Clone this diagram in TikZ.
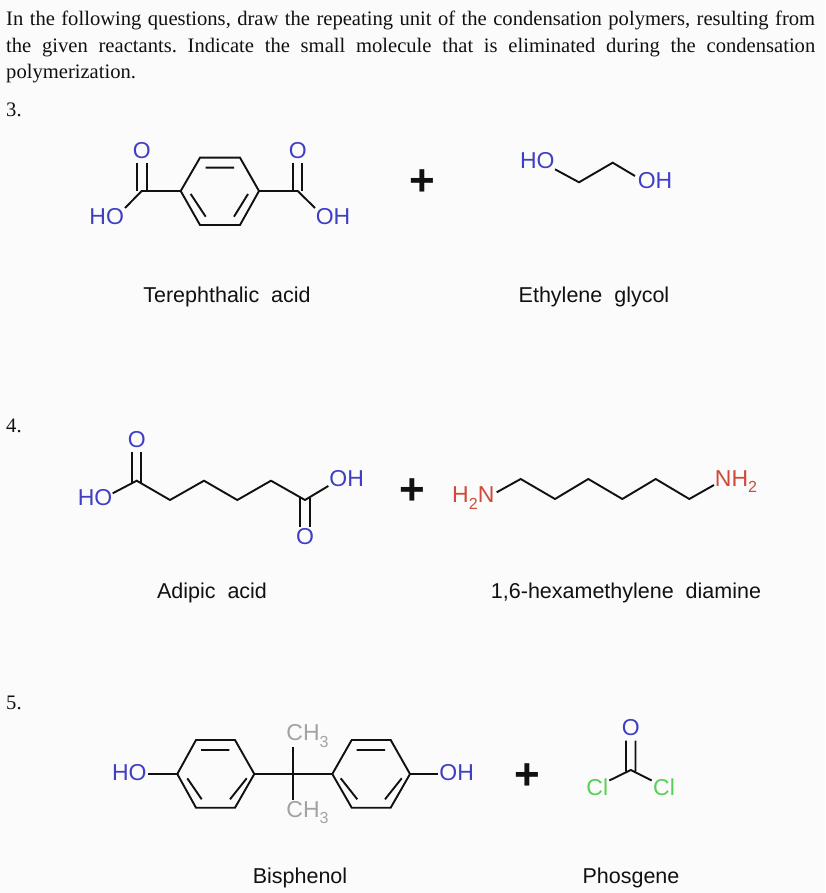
\documentclass[tikz,border=0pt]{standalone}
\usepackage{fontspec}
\setmainfont{Liberation Serif}
\newfontfamily\lab{Liberation Sans}
\frenchspacing
\definecolor{bgc}{HTML}{FBFBFB}
\definecolor{oxy}{HTML}{3F3FC4}
\definecolor{nit}{HTML}{CF4A38}
\definecolor{chl}{HTML}{58D058}
\definecolor{car}{HTML}{A2A2A2}
\definecolor{ink}{HTML}{111111}
\newcommand{\sbs}[1]{\raisebox{-0.28em}{\fontsize{16}{16}\selectfont #1}}
\tikzset{
  bond/.style={draw=ink,line width=1.9pt,line join=miter},
  atom/.style={inner sep=0pt,font=\lab\fontsize{23}{25}\selectfont},
  caption/.style={inner sep=0pt,font=\lab\fontsize{21.5}{25}\selectfont,text=ink},
  body/.style={inner sep=0pt,font=\fontsize{20.6}{26.5}\selectfont,text=ink,anchor=west},
  plus/.style={inner sep=0pt,font=\lab\bfseries\fontsize{44}{44}\selectfont,text=ink},
  O/.style={atom,text=oxy},N/.style={atom,text=nit},Cl/.style={atom,text=chl},Me/.style={atom,text=car}
}
\begin{document}
\begin{tikzpicture}[x=1pt,y=-1pt]
\useasboundingbox (0,0) rectangle (825,893);
\fill[bgc] (0,0) rectangle (825,893);

% question text
\node[body,text width=809pt,align=justify] (intro) at (6,47) {In the following questions, draw the repeating unit of the condensation polymers, resulting from\linebreak the given reactants. Indicate the small molecule that is eliminated during the condensation\linebreak polymerization.};
\node[body] (q3) at (6,110) {3.};
\node[body] (q4) at (6,426) {4.};
\node[body] (q5) at (6,703) {5.};

% ---- terephthalic acid
\foreach \n/\x/\y in {a1/200/157.7,a2/240/157.7,a3/259/191,a4/240/225,a5/200/225,a6/180.7/191,
  ai1/205.7/167.7,ai2/234/167.7,ai3/248/194,ai4/234/216.7,ai5/190.7/194,ai6/205.7/216.7,
  cl/141.7/191,cr/297.7/191,hl/125/208,hr/315/208,
  ol1/137.3/163,ol2/137.3/191,ol3/146.7/163,ol4/146.7/191,or1/293/163,or2/293/191,or3/302.4/163,or4/302.4/191}
  {\coordinate (\n) at (\x,\y);}
\draw[bond] (a1)--(a2)--(a3)--(a4)--(a5)--(a6)--cycle;
\draw[bond] (ai1)--(ai2) (ai3)--(ai4) (ai5)--(ai6);
\draw[bond] (a6)--(cl)--(hl) (a3)--(cr)--(hr);
\draw[bond] (ol1)--(ol2) (ol3)--(ol4) (or1)--(or2) (or3)--(or4);
\node[O] (ao1) at (141.7,150.7) {O};
\node[O] (ao2) at (297.7,150.7) {O};
\node[O] (aoh1) at (106.7,217) {HO};
\node[O] (aoh2) at (333,217) {OH};
\node[caption] (capa) at (227,297) {Terephthalic\ \ acid};
\node[plus] (p1) at (422,183) {+};

% ---- ethylene glycol
\foreach \n/\x/\y in {g0/555/169.3,g1/579/182.3,g2/612.7/162.7,g3/635/176}{\coordinate (\n) at (\x,\y);}
\draw[bond] (g0)--(g1)--(g2)--(g3);
\node[O] (goh1) at (537.3,161) {HO};
\node[O] (goh2) at (655,181) {OH};
\node[caption] (capg) at (594,297) {Ethylene\ \ glycol};

% ---- adipic acid
\foreach \n/\x/\y in {d0/112.7/493.3,d1/136.7/480.7,d2/170/500,d3/204/480.7,d4/237.3/500,d5/271/480.7,d6/305/500,d7/328.3/486,
  e1/131.7/452.3,e2/131.7/483,e3/141/452.3,e4/141/483,e5/300.3/498,e6/300.3/527.3,e7/309.6/498,e8/309.6/527.3}
  {\coordinate (\n) at (\x,\y);}
\draw[bond] (d0)--(d1)--(d2)--(d3)--(d4)--(d5)--(d6)--(d7);
\draw[bond] (e1)--(e2) (e3)--(e4) (e5)--(e6) (e7)--(e8);
\node[O] (do1) at (136.7,440) {O};
\node[O] (do2) at (305,537) {O};
\node[O] (doh1) at (95,497.5) {HO};
\node[O] (doh2) at (346.7,478.5) {OH};
\node[caption] (capd) at (212,593) {Adipic\ \ acid};
\node[plus] (p2) at (412,492) {+};

% ---- hexamethylene diamine
\foreach \n/\x/\y in {h0/496.7/492.3,h1/520.7/479,h2/555/499,h3/588.3/479,h4/622.3/499,h5/655.7/479,h6/689.3/499,h7/714/485}
  {\coordinate (\n) at (\x,\y);}
\draw[bond] (h0)--(h1)--(h2)--(h3)--(h4)--(h5)--(h6)--(h7);
\node[N] (hn1) at (473.3,498) {H\sbs{2}N};
\node[N] (hn2) at (736,481.5) {NH\sbs{2}};
\node[caption] (caph) at (626,593) {1,6-hexamethylene\ \ diamine};

% ---- bisphenol
\foreach \n/\x/\y in {l1/196/740,l2/235/740,l3/254.3/774,l4/235/807.7,l5/196/807.7,l6/177.3/774,
  li1/201/750,li2/229.3/750,li3/246.7/778.3,li4/230/799.3,li5/187.3/778.3,li6/201.7/799.3,
  r1/351.7/740,r2/390.7/740,r3/410/774,r4/390.7/807.7,r5/351.7/807.7,r6/332.3/774,
  ri1/356.7/750,ri2/385/750,ri3/401.7/778.3,ri4/385/799.3,ri5/340.7/778.3,ri6/357.3/799.3,
  b0/293.3/774,bu/293.3/747.3,bd/293.3/800,bl/148.3/774,br/438.3/774}
  {\coordinate (\n) at (\x,\y);}
\draw[bond] (l1)--(l2)--(l3)--(l4)--(l5)--(l6)--cycle;
\draw[bond] (li1)--(li2) (li3)--(li4) (li5)--(li6);
\draw[bond] (r1)--(r2)--(r3)--(r4)--(r5)--(r6)--cycle;
\draw[bond] (ri1)--(ri2) (ri3)--(ri4) (ri5)--(ri6);
\draw[bond] (bl)--(l6) (l3)--(b0)--(r6) (r3)--(br) (bu)--(bd);
\node[O] (boh1) at (129.3,773) {HO};
\node[O] (boh2) at (456.7,773) {OH};
\node[Me] (bm1) at (307.5,736) {CH\sbs{3}};
\node[Me] (bm2) at (307.5,812.5) {CH\sbs{3}};
\node[caption] (capb) at (300,878) {Bisphenol};
\node[plus] (p3) at (527,777) {+};

% ---- phosgene
\foreach \n/\x/\y in {c0/630.7/770,c1/609.3/780.5,c2/651.7/780.5,c3/626/740.7,c4/626/771,c5/635.5/740.7,c6/635.5/771}
  {\coordinate (\n) at (\x,\y);}
\draw[bond] (c1)--(c0)--(c2) (c3)--(c4) (c5)--(c6);
\node[O] (co) at (630.7,727.5) {O};
\node[Cl] (ccl1) at (597.3,787.5) {Cl};
\node[Cl] (ccl2) at (664,787.5) {Cl};
\node[caption] (capc) at (631,878) {Phosgene};
\end{tikzpicture}
\end{document}
